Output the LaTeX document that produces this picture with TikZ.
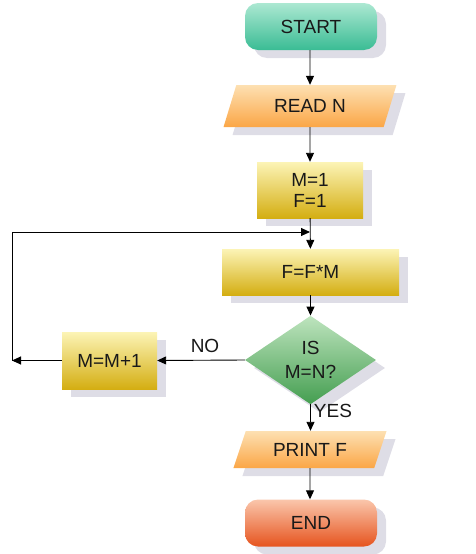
\documentclass[tikz,border=0pt]{standalone}
\usepackage{fontspec}
\setmainfont{Liberation Sans}
\usetikzlibrary{shapes.geometric,shadows,arrows.meta}
\definecolor{shadowc}{RGB}{222,221,230}
\definecolor{txt}{RGB}{25,25,25}
\definecolor{stT}{RGB}{172,232,210}
\definecolor{stB}{RGB}{58,188,148}
\definecolor{orT}{RGB}{253,224,178}
\definecolor{orB}{RGB}{251,166,70}
\definecolor{yeT}{RGB}{252,244,182}
\definecolor{yeB}{RGB}{212,174,18}
\definecolor{grT}{RGB}{190,228,190}
\definecolor{grB}{RGB}{68,158,80}
\definecolor{enT}{RGB}{250,198,172}
\definecolor{enB}{RGB}{230,84,30}
\tikzset{
  base/.style={font=\fontsize{19}{22}\selectfont, text=txt, inner sep=0pt, align=center,
    drop shadow={shadow xshift=9pt, shadow yshift=-8pt, fill=shadowc, opacity=1}},
  term/.style={base, rectangle, rounded corners=13pt, minimum width=132pt, minimum height=47pt},
  startc/.style={term, top color=stT, bottom color=stB},
  endc/.style={term, top color=enT, bottom color=enB},
  iobox/.style={base, trapezium, trapezium stretches=true, top color=orT, bottom color=orB},
  procbox/.style={base, rectangle, top color=yeT, bottom color=yeB},
  decbox/.style={base, diamond, top color=grT, bottom color=grB, minimum width=131pt, minimum height=77pt},
  conn/.style={draw=black, line width=0.9pt, -{Triangle[length=9pt,width=8pt]}},
  lbl/.style={font=\fontsize{19}{22}\selectfont, text=txt, inner sep=0pt}
}
\begin{document}
\begin{tikzpicture}[x=1pt,y=-1pt]
\useasboundingbox (0,0) rectangle (476,554);
\node[startc] (start) at (311,26.5) {START};
\node[iobox, minimum width=174pt, minimum height=42pt, trapezium left angle=64.5, trapezium right angle=115.5] (read) at (310,106) {READ N};
\node[procbox, minimum width=106pt, minimum height=56pt] (init) at (310,190) {M=1\\[-1pt]F=1};
\node[procbox, minimum width=177pt, minimum height=46pt] (fmul) at (310.5,272) {F=F*M};
\node[decbox] (dec) at (310.5,360) {IS\\[2pt]M=N?};
\node[procbox, minimum width=95pt, minimum height=57pt] (inc) at (109.5,360.5) {M=M+1};
\node[iobox, minimum width=154pt, minimum height=37pt, trapezium left angle=61.6, trapezium right angle=118.4] (print) at (310,449.5) {PRINT F};
\node[endc] (end) at (311,523) {END};
\coordinate (c1) at (12,360.5);
\coordinate (c2) at (310,232);
\draw[conn] (start.south -| read.center) -- (read);
\draw[conn] (read) -- (init);
\draw[conn] (init) -- (fmul);
\draw[conn] (fmul) -- (dec);
\draw[conn] (dec.west) -- (inc.east);
\draw[conn] (inc.west) -- (c1);
\draw[conn] (c1) |- (c2);
\draw[conn] (dec.south) -- (print.north -| dec.south);
\draw[conn] (print) -- (end.north -| print.center);
\node[lbl] (no) at (205,346) {NO};
\node[lbl] (yes) at (333,411) {YES};
\end{tikzpicture}
\end{document}
